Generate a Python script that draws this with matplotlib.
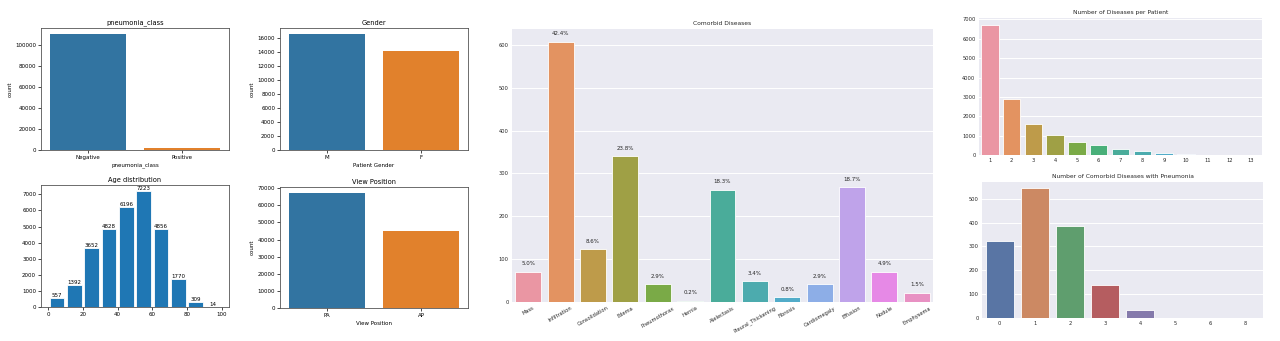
import colorsys

import matplotlib
matplotlib.use("Agg")
import matplotlib.pyplot as plt
import numpy as np
import seaborn as sns


FIG_W, FIG_H = 1280, 341

pneu_classes = ["Negative", "Positive"]
pneu_counts = [110689, 1431]

genders = ["M", "F"]
gender_counts = [16630, 14175]

views = ["PA", "AP"]
view_counts = [67310, 44810]

age_edges = [0, 10, 20, 30, 40, 50, 60, 70, 80, 90, 100]
age_counts = [557, 1392, 3652, 4828, 6196, 7223, 4856, 1770, 309, 14]

diseases = ["Mass", "Infiltration", "Consolidation", "Edema", "Pneumothorax", "Hernia",
            "Atelectasis", "Pleural_Thickening", "Fibrosis", "Cardiomegaly", "Effusion",
            "Nodule", "Emphysema"]
disease_counts = [71, 607, 123, 340, 41, 3, 262, 48, 11, 41, 268, 70, 21]
pneumonia_total = 1431

n_diseases = ["1", "2", "3", "4", "5", "6", "7", "8", "9", "10", "11", "12", "13"]
n_disease_patients = [6740, 2886, 1607, 1037, 674, 501, 311, 190, 104, 52, 20, 6, 2]

n_comorbid = ["0", "1", "2", "3", "4", "5", "6", "8"]
n_comorbid_counts = [322, 543, 385, 137, 34, 2, 1, 1]


def box(left, top, right, bottom):
    return [left / FIG_W, 1 - bottom / FIG_H, (right - left) / FIG_W, (bottom - top) / FIG_H]


def desat(colors, prop=0.75):
    return [sns.desaturate(c, prop) for c in colors]


fig = plt.figure(figsize=(12.8, 3.41), dpi=100)

# ---- left columns: plain matplotlib look ----
TITLE_L, TICK_L = 4.8, 4.0
left_pal = desat(["#1f77b4", "#ff7f0e"])


def plain_count(ax, cats, vals, title, xlabel):
    ax.bar(cats, vals, width=0.8, color=left_pal)
    ax.set_title(title, fontsize=TITLE_L, pad=2.5)
    ax.set_ylabel("count", fontsize=TICK_L, labelpad=2)
    ax.set_xlabel(xlabel, fontsize=TICK_L, labelpad=2)
    ax.tick_params(labelsize=TICK_L, length=2, width=0.5, pad=1.5)
    for s in ax.spines.values():
        s.set_linewidth(0.6)
        s.set_edgecolor("#555555")


ax1 = fig.add_axes(box(41, 28, 229, 150))
plain_count(ax1, pneu_classes, pneu_counts, "pneumonia_class", "pneumonia_class")

ax2 = fig.add_axes(box(280, 28, 468, 150))
plain_count(ax2, genders, gender_counts, "Gender", "Patient Gender")

ax3 = fig.add_axes(box(280, 187, 468, 308))
plain_count(ax3, views, view_counts, "View Position", "View Position")

ax4 = fig.add_axes(box(41, 185, 229, 307))
centers = [(a + b) / 2 for a, b in zip(age_edges[:-1], age_edges[1:])]
bars = ax4.bar(centers, age_counts, width=8.4, color="#1f77b4", edgecolor="white", linewidth=0.6)
for b, v in zip(bars, age_counts):
    ax4.text(b.get_x() + b.get_width() / 2, v, str(v), ha="center", va="bottom", fontsize=TICK_L)
ax4.set_title("Age distribution", fontsize=TITLE_L, pad=2.5)
ax4.set_xticks([0, 20, 40, 60, 80, 100])
ax4.tick_params(labelsize=TICK_L, length=2, width=0.5, pad=1.5)
for s in ax4.spines.values():
    s.set_linewidth(0.6)
    s.set_edgecolor("#555555")

# ---- right columns: seaborn darkgrid look ----
TITLE_R, TICK_R = 4.3, 3.7
husl13 = desat(sns.husl_palette(13, l=0.7))
deep8 = desat(sns.color_palette("deep", 8))


def dark_axes(ax, title):
    ax.set_facecolor("#EAEAF2")
    ax.set_axisbelow(True)
    ax.yaxis.grid(True, color="white", linewidth=0.7)
    ax.xaxis.grid(False)
    for s in ax.spines.values():
        s.set_visible(False)
    ax.tick_params(labelsize=TICK_R, length=0, pad=2.5, colors="#262626")
    ax.set_title(title, fontsize=TITLE_R, color="#262626", pad=3)


ax5 = fig.add_axes(box(512, 29, 933, 302))
dark_axes(ax5, "Comorbid Diseases")
x5 = np.arange(len(diseases))
bars = ax5.bar(x5, disease_counts, width=0.8, color=husl13, edgecolor="white", linewidth=0.6)
for b, v in zip(bars, disease_counts):
    ax5.annotate(f"{v / pneumonia_total * 100:.1f}%", (b.get_x() + b.get_width() / 2, v),
                 xytext=(0, 4), textcoords="offset points", ha="center", va="bottom",
                 fontsize=TICK_R + 0.3, color="#262626")
ax5.set_xticks(x5)
ax5.set_xticklabels(diseases, rotation=30)
ax5.set_xlim(-0.5, len(diseases) - 0.5)

ax6 = fig.add_axes(box(979, 18, 1262, 155))
dark_axes(ax6, "Number of Diseases per Patient")
x6 = np.arange(len(n_diseases))
ax6.bar(x6, n_disease_patients, width=0.8, color=husl13, edgecolor="white", linewidth=0.6)
ax6.set_xticks(x6)
ax6.set_xticklabels(n_diseases)
ax6.set_xlim(-0.5, len(n_diseases) - 0.5)

ax7 = fig.add_axes(box(982, 182, 1263, 318))
dark_axes(ax7, "Number of Comorbid Diseases with Pneumonia")
x7 = np.arange(len(n_comorbid))
ax7.bar(x7, n_comorbid_counts, width=0.8, color=deep8, edgecolor="white", linewidth=0.6)
ax7.set_xticks(x7)
ax7.set_xticklabels(n_comorbid)
ax7.set_xlim(-0.5, len(n_comorbid) - 0.5)

fig.savefig("out.png", dpi=100)
